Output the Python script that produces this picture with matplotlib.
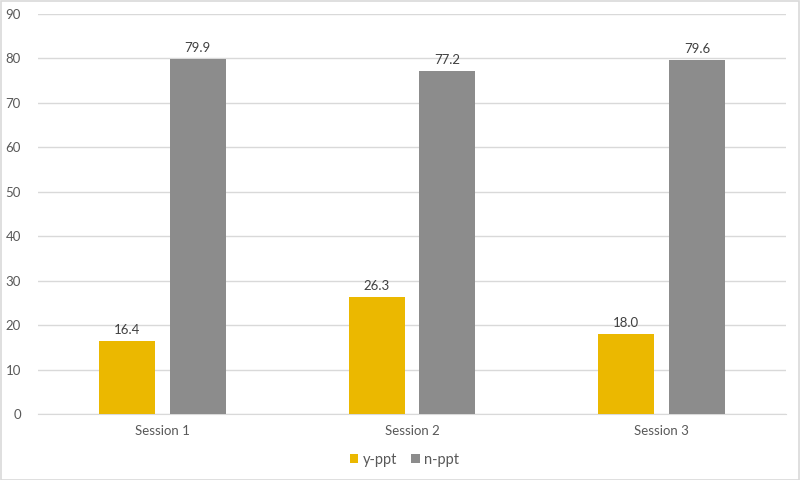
import matplotlib.pyplot as plt
import numpy as np
from matplotlib.patches import Rectangle

plt.rcParams['font.family'] = ['Lato', 'DejaVu Sans']

sessions = ['Session 1', 'Session 2', 'Session 3']
y_ppt = [16.4, 26.3, 18.0]
n_ppt = [79.9, 77.2, 79.6]
series_names = ['y-ppt', 'n-ppt']
colors = ['#EBB800', '#8C8C8C']
text_color = '#595959'

fig = plt.figure(figsize=(8, 4.8), dpi=100)
fig.patches.append(Rectangle((0.001, 0.001), 0.998, 0.997, transform=fig.transFigure,
                             fill=False, edgecolor='#D9D9D9', linewidth=1.2))
ax = fig.add_axes([0.047, 0.1375, 0.936, 0.8333])

x = np.arange(len(sessions))
w = 0.224
off = 0.1414
b1 = ax.bar(x - off, y_ppt, w, color=colors[0], label=series_names[0], zorder=3)
b2 = ax.bar(x + off, n_ppt, w, color=colors[1], label=series_names[1], zorder=3)

for bars, vals in [(b1, y_ppt), (b2, n_ppt)]:
    for r, v in zip(bars, vals):
        ax.text(r.get_x() + r.get_width() / 2, v + 1.2, '%.1f' % v,
                ha='center', va='bottom', fontsize=9.5, color='#404040')

ax.set_xlim(-0.5, 2.5)
ax.set_ylim(0, 90)
ax.set_yticks(range(0, 100, 10))
ax.set_xticks(x)
ax.set_xticklabels(sessions)
ax.grid(axis='y', color='#D9D9D9', linewidth=1, zorder=0)
for s in ['top', 'right', 'left']:
    ax.spines[s].set_visible(False)
ax.spines['bottom'].set_color('#D9D9D9')
ax.tick_params(axis='both', length=0, labelsize=9.5, colors=text_color)
ax.tick_params(axis='y', pad=12)
ax.tick_params(axis='x', pad=8)

ax.legend(loc='center', bbox_to_anchor=(0.49, -0.115), ncol=2, frameon=False,
          fontsize=10.5, handlelength=0.55, handleheight=0.55, handletextpad=0.3,
          columnspacing=1.0, labelcolor=text_color)

plt.savefig('out.png', dpi=100)
